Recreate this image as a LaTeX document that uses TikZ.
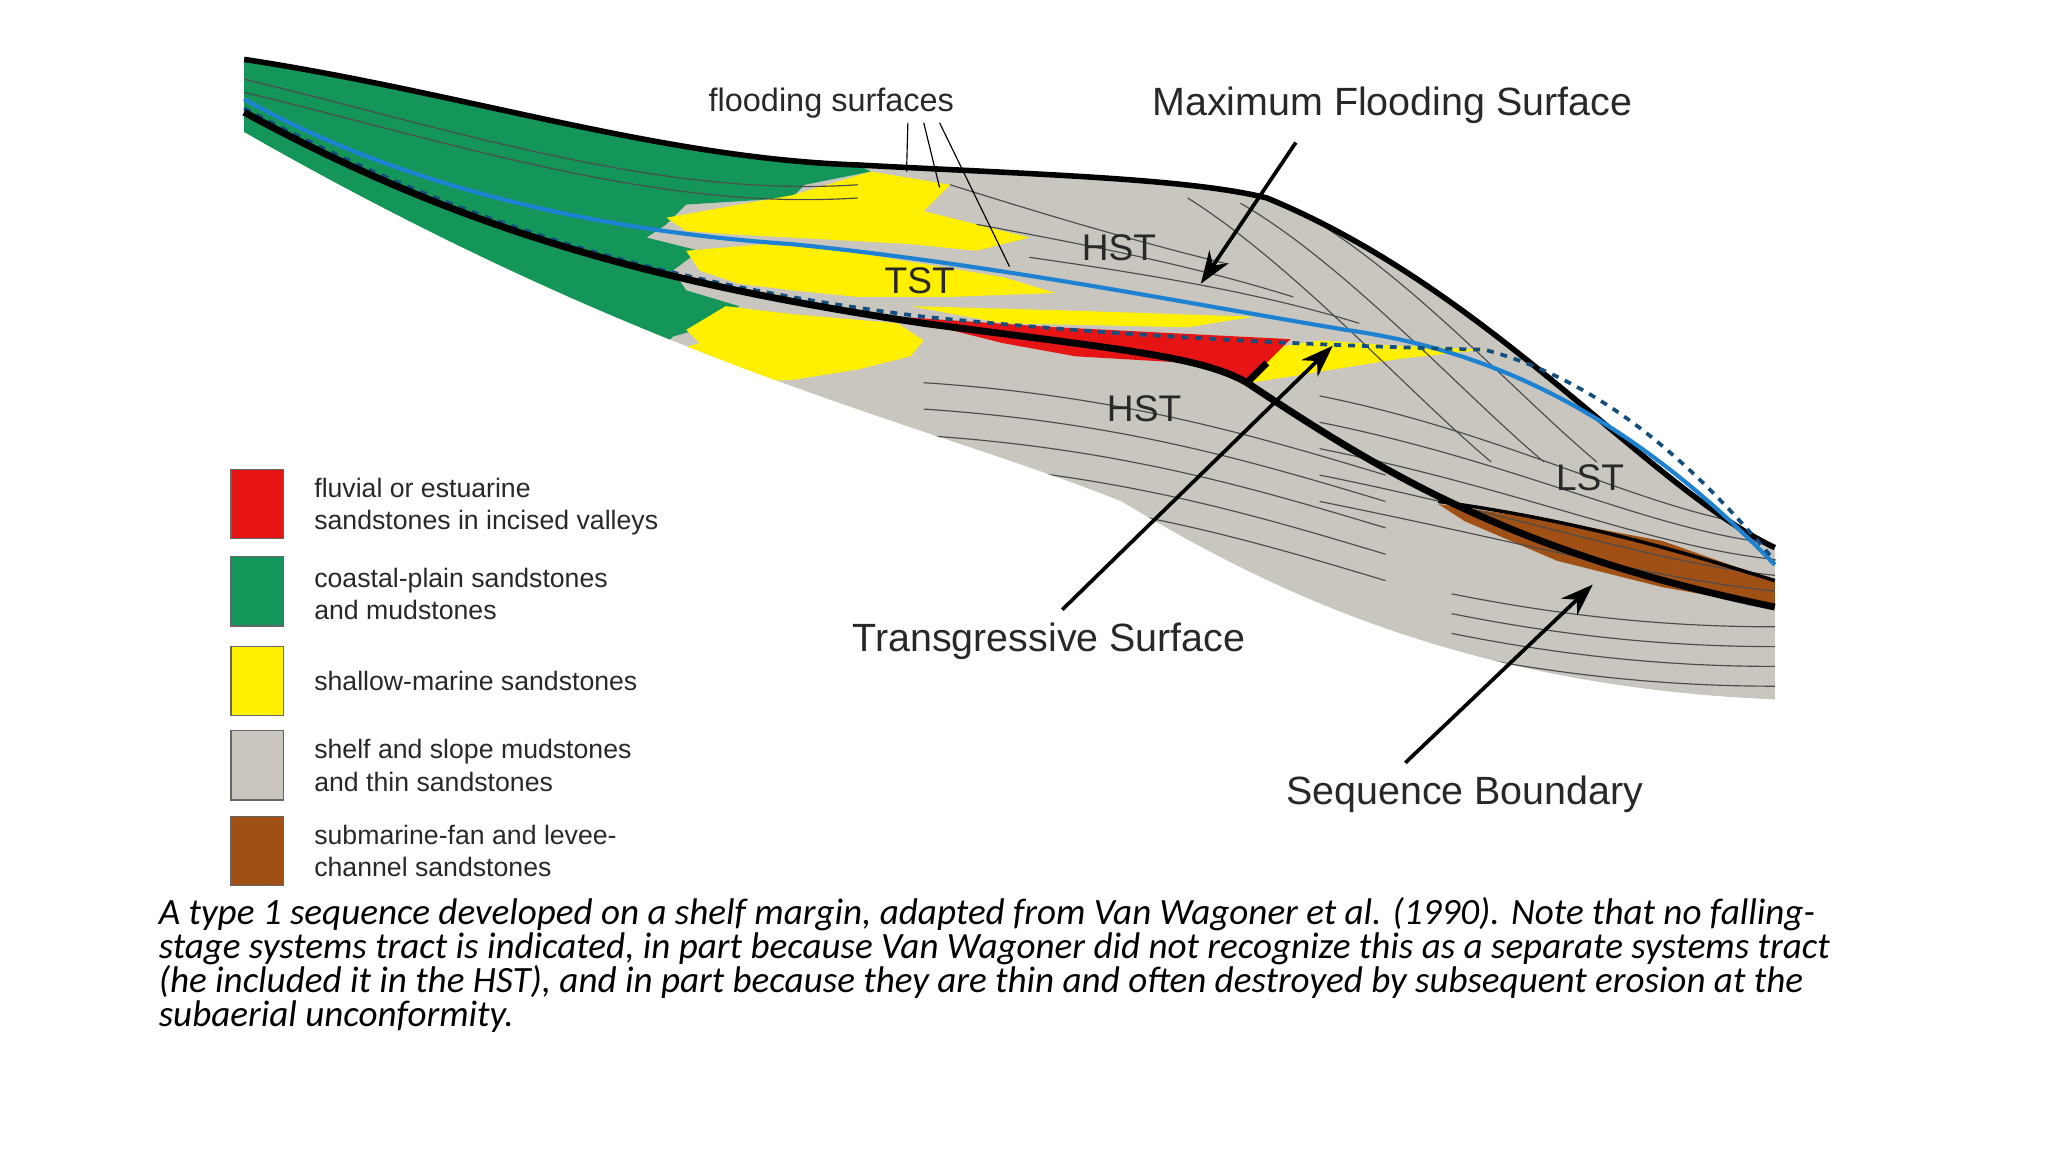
\documentclass[tikz,border=0pt]{standalone}
\usepackage{fontspec}
\setmainfont{Liberation Sans}
\newfontfamily\capfont{Carlito}
\usetikzlibrary{arrows.meta}
\definecolor{grn}{RGB}{20,150,90}
\definecolor{yel}{RGB}{255,240,0}
\definecolor{gry}{RGB}{200,198,190}
\definecolor{red1}{RGB}{230,20,20}
\definecolor{brn}{RGB}{160,80,20}
\definecolor{blu}{RGB}{30,130,210}
\definecolor{txt}{RGB}{40,40,40}
\tikzset{
 thin/.style={line width=0.5pt,black!70},
 lab/.style={font=\fontsize{14}{16}\selectfont,text=txt,anchor=center},
 leg/.style={font=\fontsize{11.5}{14}\selectfont,text=txt,anchor=west,align=left},
 box/.style={draw=black!60,line width=0.6pt,minimum width=0.8cm,minimum height=1.05cm},
 arr/.style={line width=1.6pt,-{Stealth[length=14pt,width=10pt]}},
}
\def\toppath{(185,45) .. controls (350,70) and (500,120) .. (650,125)
  .. controls (780,132) and (900,135) .. (960,150)
  .. controls (1130,220) and (1250,370) .. (1345,415)}
\def\bodypath{\toppath -- (1345,530)
  .. controls (1100,520) and (950,440) .. (850,380)
  .. controls (700,320) and (500,280) .. (185,100) -- cycle}
\begin{document}
\begin{tikzpicture}[x=0.02cm,y=-0.02cm]
\useasboundingbox (0,0) rectangle (1552,873);
\fill[gry] \bodypath;
\begin{scope}
\clip \bodypath;
\fill[grn] (185,45) .. controls (350,70) and (500,120) .. (650,125) -- (660,130) -- (610,140) -- (600,150) -- (520,155) -- (505,170)
 -- (490,180) -- (530,190) -- (510,205) -- (520,220) -- (560,232) -- (545,245) -- (510,255) -- (490,275) -- (490,290)
 -- (185,120) -- cycle;
\fill[yel] (505,165) -- (560,155) -- (600,148) -- (660,130) -- (720,140) -- (700,160) -- (740,170) -- (780,180) -- (740,190) -- (690,185) -- (600,180) -- (560,178) -- (520,175) -- cycle;
\fill[yel] (520,190) -- (580,185) -- (640,190) -- (700,200) -- (760,210) -- (800,222) -- (720,225) -- (650,225) -- (600,220) -- (560,215) -- (530,205) -- cycle;
\fill[yel] (550,232) -- (600,238) -- (680,245) -- (700,258) -- (690,270) -- (650,280) -- (600,288) -- (540,290) -- (490,282) -- (500,268) -- (530,260) -- (520,250) -- cycle;
\fill[yel] (690,232) -- (800,235) -- (950,240) -- (900,248) -- (760,245) -- cycle;
\fill[yel] (955,265) -- (1000,258) -- (1060,262) -- (1125,265) -- (1060,272) -- (1010,280) -- (980,285) -- (948,290) -- cycle;
\fill[red1] (680,240) -- (800,248) -- (978,257) -- (960,275) -- (945,290) -- (900,275) -- (815,270) -- (760,260) -- cycle;
\fill[brn] (1090,382) -- (1180,395) -- (1260,410) -- (1345,440) -- (1345,460) -- (1260,445) -- (1180,425) -- (1110,395) -- cycle;
\foreach \a in {60,70}{\draw[thin] (185,\a) .. controls (350,\a+40) and (500,\a+90) .. (650,\a+80);}
\foreach \o in {0,15,30,45}{\draw[thin] (185,110+\o*0.3) .. controls (300,170+\o) and (400,230+\o) .. (500,265+\o*0.6);}
\draw[thin] (720,140) .. controls (800,165) and (850,180) .. (930,200);
\draw[thin] (740,170) .. controls (820,185) and (900,200) .. (980,225);
\draw[thin] (780,195) .. controls (850,205) and (950,220) .. (1030,245);
\foreach \s/\e in {900/1130,940/1170,980/1210,1020/1250,1060/1290,1100/1320,1140/1340}{
 \draw[thin] (\s,150+0.1*\s-90) .. controls (\s+80,200) and (\e-60,300) .. (\e,350);}
\foreach \y in {290,310,330,350,370}{\draw[thin] (700,\y) .. controls (850,\y+10) and (950,\y+40) .. (1050,\y+70);}
\foreach \y in {0,20,40,60,80}{\draw[thin] (1000,300+\y) .. controls (1150,330+\y) and (1250,390+\y*0.6) .. (1345,400+\y*0.6);}
\foreach \y in {470,485,500,515}{\draw[thin] (1100,\y-20) .. controls (1200,\y) and (1280,\y+5) .. (1345,\y+5);}
\end{scope}
\draw[line width=2.4pt] \toppath;
\draw[blu,line width=1.8pt] (185,75) .. controls (300,140) and (450,175) .. (600,185)
  .. controls (750,200) and (900,230) .. (1020,250) .. controls (1150,268) and (1250,330) .. (1345,428);
\draw[blu!60!black,line width=1.6pt,dash pattern=on 3pt off 3pt] (185,82) .. controls (350,170) and (500,215) .. (700,240)
  .. controls (850,255) and (1000,262) .. (1125,265) .. controls (1220,290) and (1290,360) .. (1345,425);
\draw[line width=3pt] (185,85) .. controls (350,175) and (500,215) .. (700,245)
  .. controls (850,265) and (910,270) .. (945,290)
  .. controls (1050,360) and (1150,420) .. (1345,460);
\draw[line width=1.5pt] (1090,380) .. controls (1200,395) and (1280,420) .. (1345,440);
\draw[line width=3pt] (945,290) -- (960,275);
\node[lab] (fs) at (630,78) {flooding surfaces};
\coordinate (f1) at (687,130); \coordinate (f2) at (712,142); \coordinate (f3) at (765,202);
\draw[thin,black] (688,93) -- (f1); \draw[thin,black] (700,93) -- (f2); \draw[thin,black] (712,93) -- (f3);
\node[lab,font=\fontsize{17}{19}\selectfont] (mfs) at (1055,80) {Maximum Flooding Surface};
\coordinate (mfsT) at (910,215);
\draw[arr] (982,108) -- (mfsT);
\node[lab,font=\fontsize{17}{19}\selectfont] (ts) at (795,486) {Transgressive Surface};
\coordinate (tsT) at (1010,262);
\draw[arr] (805,462) -- (tsT);
\node[lab,font=\fontsize{17}{19}\selectfont] (sb) at (1110,602) {Sequence Boundary};
\coordinate (sbT) at (1207,443);
\draw[arr] (1065,578) -- (sbT);
\node[lab,font=\fontsize{16}{18}\selectfont] (h1) at (848,188) {HST};
\node[lab,font=\fontsize{16}{18}\selectfont] (t1) at (697,213) {TST};
\node[lab,font=\fontsize{16}{18}\selectfont] (h2) at (867,310) {HST};
\node[lab,font=\fontsize{16}{18}\selectfont] (l1) at (1205,362) {LST};
\node[box,fill=red1] (b1) at (195,382) {};
\node[box,fill=grn] (b2) at (195,448) {};
\node[box,fill=yel] (b3) at (195,516) {};
\node[box,fill=gry] (b4) at (195,580) {};
\node[box,fill=brn] (b5) at (195,645) {};
\node[leg] (t1l) at (232,384) {fluvial or estuarine\\sandstones in incised valleys};
\node[leg] (t2l) at (232,450) {coastal-plain sandstones\\and mudstones};
\node[leg] (t3l) at (232,516) {shallow-marine sandstones};
\node[leg] (t4l) at (232,580) {shelf and slope mudstones\\and thin sandstones};
\node[leg] (t5l) at (232,645) {submarine-fan and levee-\\channel sandstones};
\node[anchor=north west,align=left,font=\capfont\itshape\fontsize{16}{14.6}\selectfont,inner sep=0pt] (cap) at (120,680)
{A type 1 sequence developed on a shelf margin, adapted from Van Wagoner et al. (1990). Note that no falling-\\
stage systems tract is indicated, in part because Van Wagoner did not recognize this as a separate systems tract\\
(he included it in the HST), and in part because they are thin and often destroyed by subsequent erosion at the\\
subaerial unconformity.};
\end{tikzpicture}
\end{document}
